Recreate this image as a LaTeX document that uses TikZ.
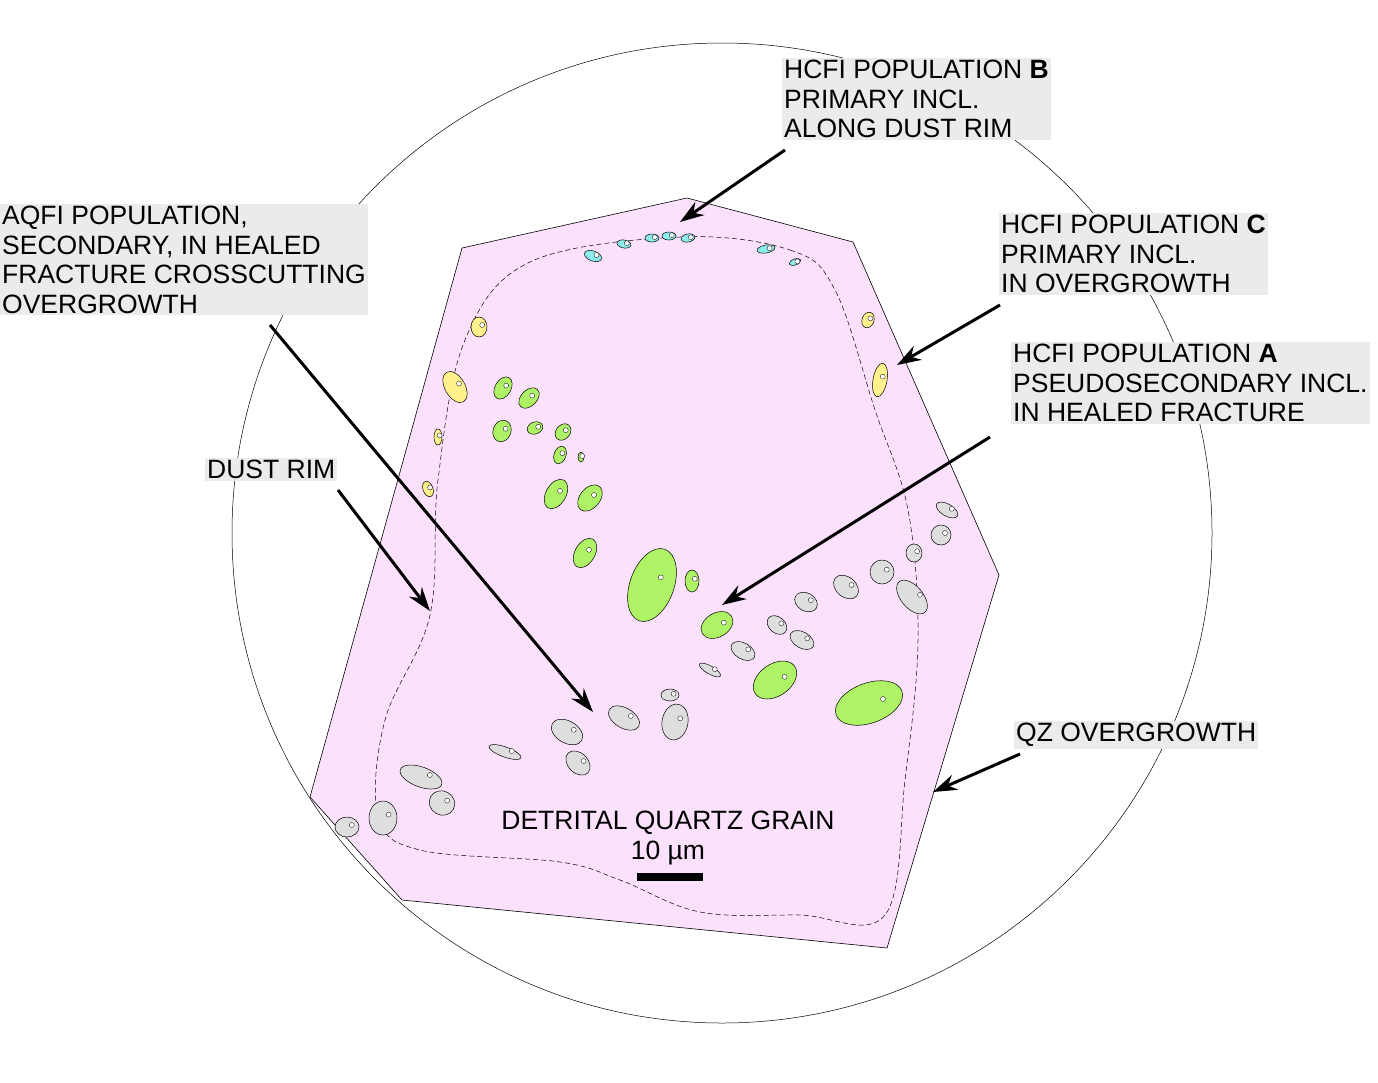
\documentclass[tikz,border=0pt]{standalone}
\usepackage{fontspec}
\setmainfont{Liberation Sans}
\usetikzlibrary{arrows.meta}
\definecolor{boxgray}{HTML}{EBEBEB}
\definecolor{pinkfill}{HTML}{FCE1FC}
\definecolor{gfi}{HTML}{DEDEDE}
\definecolor{grn}{HTML}{AEF266}
\definecolor{yel}{HTML}{FFF28C}
\definecolor{cya}{HTML}{8EEBEB}
\tikzset{
 lbl/.style={fill=boxgray,align=left,anchor=north west,inner sep=2pt,font=\fontsize{26.5}{29.5}\selectfont},
 arr/.style={line width=3pt,-{Stealth[length=24pt,width=16pt]}},
 inc/.style={draw=black,line width=0.5pt},
}
\newcommand{\incl}[6]{\draw[inc,fill=#6,rotate around={#5:(#1,#2)}] (#1,#2) ellipse [x radius=#3,y radius=#4];
 \fill[white,draw=black,line width=0.3pt] (#1+0.4*#3,#2-0.2*#4) circle (2.5);}
\begin{document}
\begin{tikzpicture}[x=1pt,y=-1pt]
\useasboundingbox (0,0) rectangle (1378,1082);
\draw[line width=0.5pt] (722,533) circle (490);
\draw[fill=pinkfill,line width=0.6pt] (462,248) -- (687,198) -- (853,242) -- (999,575) -- (887,948) -- (402,900) -- (310,797) -- cycle;
\draw[dashed,line width=0.5pt,dash pattern=on 5pt off 3pt] plot[smooth cycle,tension=0.6] coordinates {
 (680,237) (790,250) (835,290) (875,410) (908,510) (918,640) (905,780) (885,915) (800,915) (700,912) (620,880) (560,862) (420,850) (378,815) (385,720) (430,615) (438,480) (465,340) (530,262)};
% cyan
\incl{593}{256}{9}{5}{-20}{cya}\incl{624}{244}{7}{4}{-10}{cya}\incl{652}{238}{7}{4}{0}{cya}
\incl{669}{236}{7}{4}{0}{cya}\incl{688}{238}{7}{4}{10}{cya}\incl{766}{249}{9}{4}{10}{cya}\incl{795}{262}{6}{3}{20}{cya}
% yellow
\incl{868}{320}{6}{8}{-20}{yel}\incl{880}{380}{7}{17}{-10}{yel}\incl{479}{327}{8}{10}{0}{yel}
\incl{455}{387}{10}{17}{30}{yel}\incl{438}{437}{4}{8}{0}{yel}\incl{428}{489}{5}{8}{20}{yel}
% green
\incl{503}{388}{8}{12}{-30}{grn}\incl{529}{398}{8}{12}{-45}{grn}\incl{502}{431}{9}{11}{-20}{grn}
\incl{535}{428}{8}{6}{20}{grn}\incl{563}{432}{7}{9}{-40}{grn}\incl{560}{455}{6}{9}{-20}{grn}
\incl{581}{457}{3}{5}{0}{grn}\incl{556}{494}{10}{16}{-30}{grn}\incl{590}{498}{10}{15}{-40}{grn}
\incl{585}{553}{10}{16}{-30}{grn}\incl{652}{585}{22}{38}{-20}{grn}\incl{692}{581}{7}{11}{0}{grn}
\incl{717}{625}{17}{12}{30}{grn}\incl{775}{680}{24}{16}{35}{grn}\incl{869}{703}{35}{20}{20}{grn}
% gray
\incl{947}{510}{12}{6}{-30}{gfi}\incl{941}{535}{10}{10}{0}{gfi}\incl{914}{553}{8}{9}{0}{gfi}
\incl{882}{572}{12}{12}{0}{gfi}\incl{846}{587}{14}{10}{-40}{gfi}\incl{806}{602}{12}{9}{-30}{gfi}
\incl{912}{597}{20}{11}{-50}{gfi}\incl{777}{625}{11}{8}{-40}{gfi}\incl{802}{640}{13}{8}{-30}{gfi}
\incl{743}{651}{13}{8}{-30}{gfi}\incl{710}{670}{12}{4}{-30}{gfi}\incl{670}{695}{9}{6}{0}{gfi}
\incl{675}{722}{13}{18}{-10}{gfi}\incl{624}{718}{17}{10}{-30}{gfi}\incl{567}{732}{17}{11}{-30}{gfi}
\incl{578}{763}{14}{10}{-45}{gfi}\incl{505}{752}{17}{5}{-20}{gfi}\incl{421}{777}{22}{10}{-20}{gfi}
\incl{442}{803}{13}{12}{-30}{gfi}\incl{383}{818}{14}{17}{0}{gfi}\incl{347}{827}{12}{10}{0}{gfi}
% labels
\node[lbl] (B) at (782,58) {HCFI POPULATION \textbf{B}\\PRIMARY INCL.\\ALONG DUST RIM};
\node[lbl] (Q) at (0,204) {AQFI POPULATION,\\SECONDARY, IN HEALED\\FRACTURE CROSSCUTTING\\OVERGROWTH};
\node[lbl] (C) at (999,213) {HCFI POPULATION \textbf{C}\\PRIMARY INCL.\\IN OVERGROWTH};
\node[lbl] (A) at (1011,342) {HCFI POPULATION \textbf{A}\\PSEUDOSECONDARY INCL.\\IN HEALED FRACTURE};
\node[lbl] (D) at (205,458) {DUST RIM};
\node[lbl] (O) at (1014,721) {QZ OVERGROWTH};
\node[font=\fontsize{26.5}{29.5}\selectfont] (G) at (668,823) {DETRITAL QUARTZ GRAIN};
\node[font=\fontsize{26.5}{29.5}\selectfont] (S) at (668,853) {10 µm};
\draw[line width=8pt] (637,877) -- (703,877);
\coordinate (Bs) at (785,150); \coordinate (Be) at (680,222);
\coordinate (Qs) at (270,325); \coordinate (Qe) at (593,712);
\coordinate (Cs) at (1000,305); \coordinate (Ce) at (897,365);
\coordinate (As) at (990,437); \coordinate (Ae) at (722,605);
\coordinate (Ds) at (338,490); \coordinate (De) at (430,611);
\coordinate (Os) at (1020,754); \coordinate (Oe) at (933,792);
\draw[arr] (Bs) -- (Be); \draw[arr] (Qs) -- (Qe); \draw[arr] (Cs) -- (Ce);
\draw[arr] (As) -- (Ae); \draw[arr] (Ds) -- (De); \draw[arr] (Os) -- (Oe);
\end{tikzpicture}
\end{document}
